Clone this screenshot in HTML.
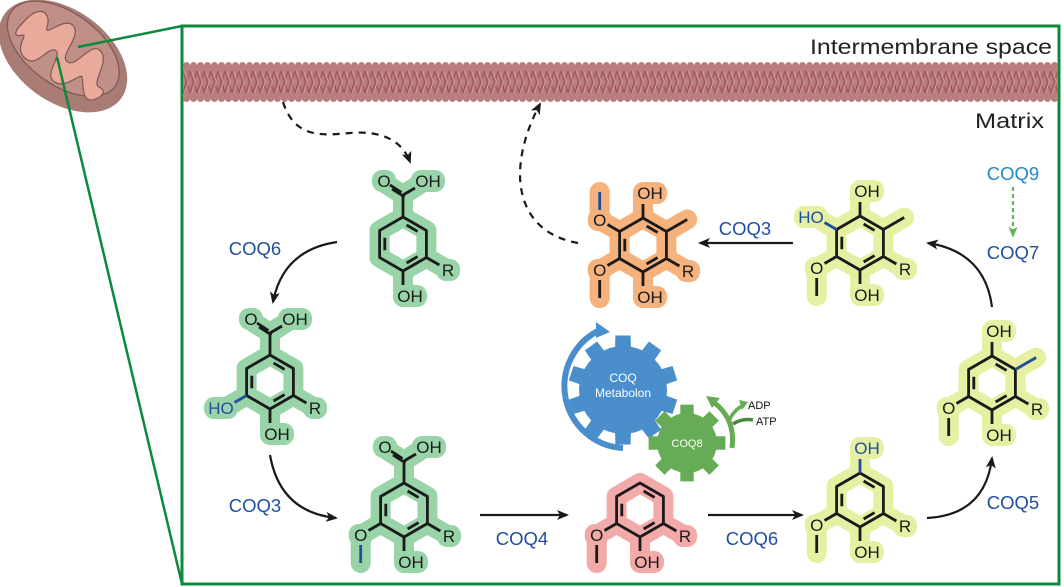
<!DOCTYPE html>
<html><head><meta charset="utf-8"><style>
html,body{margin:0;padding:0;background:#fff;width:1064px;height:587px;overflow:hidden}
svg{display:block}
text{font-family:"Liberation Sans",Arial,sans-serif}
</style></head><body>
<svg id="s" width="1064" height="587" viewBox="0 0 1064 587" xmlns="http://www.w3.org/2000/svg">
<defs>
<marker id="ah" viewBox="0 0 12 10" refX="10" refY="5" markerWidth="12" markerHeight="10" markerUnits="userSpaceOnUse" orient="auto">
<path d="M0,0 L12,5 L0,10 L3,5 Z" fill="#1a1a1a"/></marker>
<marker id="ahg" viewBox="0 0 12 10" refX="10" refY="5" markerWidth="11" markerHeight="10" markerUnits="userSpaceOnUse" orient="auto">
<path d="M0,0 L12,5 L0,10 L3,5 Z" fill="#5fb55a"/></marker>
<pattern id="mem" x="183" y="62" width="7" height="40" patternUnits="userSpaceOnUse">
<rect x="0" y="3" width="7" height="34" fill="#bb7e80"/>
<circle cx="3.5" cy="3.5" r="3.5" fill="#bb7e80"/>
<circle cx="3.5" cy="36.5" r="3.5" fill="#bb7e80"/>
<path d="M0,9 L3.5,20 L7,9 M0,31 L3.5,20 L7,31" stroke="#a45a60" stroke-width="1.6" fill="none"/>
<path d="M1.7,9 L5.2,20 M1.7,31 L5.2,20" stroke="#d9a7a8" stroke-width="0.8" fill="none"/>
</pattern>
</defs>

<!-- mitochondrion -->
<g transform="translate(63,56) rotate(36)">
<ellipse cx="0" cy="0" rx="72" ry="46" fill="#a87b75"/>
<ellipse cx="-4" cy="-6" rx="64" ry="36" fill="#c08f88" stroke="#7d5853" stroke-width="1.2"/>
<path d="M-52,-4 C-50,-30 -34,-28 -30,-14 C-26,-2 -22,-36 -8,-30 C4,-24 -4,4 8,2 C18,0 14,-30 28,-26 C42,-22 38,6 48,4 C56,2 56,10 50,18 C42,26 34,12 28,6 C24,2 22,26 8,26 C-6,26 0,-2 -10,0 C-18,2 -14,26 -30,24 C-46,22 -40,0 -46,8 C-52,14 -54,8 -52,-4 Z" fill="#e9a99b" stroke="#7d5853" stroke-width="1.2"/>
</g>
<line x1="78" y1="47" x2="182" y2="26" stroke="#0b8a3c" stroke-width="2.5"/>
<line x1="57" y1="57" x2="182" y2="584" stroke="#0b8a3c" stroke-width="2.5"/>
<rect x="182" y="26" width="877" height="558" fill="none" stroke="#0b8a3c" stroke-width="3"/>

<!-- membrane -->
<rect x="183" y="62" width="875" height="40" fill="url(#mem)"/>
<text x="810" y="54" font-size="21" textLength="242" lengthAdjust="spacingAndGlyphs" fill="#222">Intermembrane space</text>
<text x="975" y="128" font-size="21" textLength="69" lengthAdjust="spacingAndGlyphs" fill="#222">Matrix</text>

<!-- dashed -->
<path d="M283,102 C295,140 325,135 350,133 C385,130 403,143 410,162" fill="none" stroke="#1a1a1a" stroke-width="2.2" stroke-dasharray="7,6" marker-end="url(#ah)"/>
<path d="M578,243 C515,232 505,170 540,104" fill="none" stroke="#1a1a1a" stroke-width="2.2" stroke-dasharray="7,6" marker-end="url(#ah)"/>

<!-- solid arrows -->
<g fill="none" stroke="#1a1a1a" stroke-width="2.2">
<path d="M337,242 Q283,250 273,302" marker-end="url(#ah)"/>
<path d="M270,455 Q280,512 336,518" marker-end="url(#ah)"/>
<path d="M480,515 L567,515" marker-end="url(#ah)"/>
<path d="M708,515 L802,515" marker-end="url(#ah)"/>
<path d="M927,518 Q985,515 992,458" marker-end="url(#ah)"/>
<path d="M992,307 Q985,252 928,243" marker-end="url(#ah)"/>
<path d="M793,243 L700,243" marker-end="url(#ah)"/>
</g>
<path d="M1013,187 L1013,236" stroke="#5fb55a" stroke-width="2.2" stroke-dasharray="4,3" fill="none" marker-end="url(#ahg)"/>

<g font-size="18.5" fill="#1f4e9e">
<text x="255" y="255" text-anchor="middle">COQ6</text>
<text x="255" y="512" text-anchor="middle">COQ3</text>
<text x="522" y="545" text-anchor="middle">COQ4</text>
<text x="752" y="545" text-anchor="middle">COQ6</text>
<text x="1013" y="509" text-anchor="middle">COQ5</text>
<text x="1013" y="259" text-anchor="middle">COQ7</text>
<text x="1013" y="180" text-anchor="middle" fill="#1e88c8">COQ9</text>
<text x="745" y="235" text-anchor="middle">COQ3</text>
</g>

<g id="gears"></g>
<g id="mols"></g>
</svg>
<script>
var NS="http://www.w3.org/2000/svg";
function el(p,t,a,txt){var e=document.createElementNS(NS,t);for(var k in a)e.setAttribute(k,a[k]);if(txt)e.textContent=txt;p.appendChild(e);return e;}
var G=document.getElementById('gears');
function gear(cx,cy,rb,rt,n,col){var d="";var step=2*Math.PI/n;for(var i=0;i<n;i++){var a=i*step-Math.PI/2;var w=step*0.22;var pts=[[rb,a-step/2+w*0.2],[rb,a-w*1.3],[rt,a-w],[rt,a+w],[rb,a+w*1.3]];pts.forEach(function(p,j){var x=cx+p[0]*Math.cos(p[1]),y=cy+p[0]*Math.sin(p[1]);d+=(i==0&&j==0?"M":"L")+x.toFixed(1)+","+y.toFixed(1);});}d+="Z";el(G,'path',{d:d,fill:col});}
el(G,'path',{d:"M623,448 A62,62 0 0 1 600,330",fill:"none",stroke:"#4a8fcb","stroke-width":6});
el(G,'path',{d:"M596,322 L610,332 L596,338 Z",fill:"#4a8fcb"});
gear(623,390,44,55,10,"#4a8fcb");
el(G,'text',{x:623,y:382,"font-size":12,fill:"#fff","text-anchor":"middle"},"COQ");
el(G,'text',{x:623,y:397,"font-size":12,fill:"#fff","text-anchor":"middle"},"Metabolon");
gear(687,443,30,39,8,"#66ab55");
el(G,'text',{x:687,y:447,"font-size":11,fill:"#fff","text-anchor":"middle"},"COQ8");
el(G,'path',{d:"M732,448 Q736,418 712,401",fill:"none",stroke:"#66ab55","stroke-width":5});
el(G,'path',{d:"M706,396 L720,398 L712,408 Z",fill:"#66ab55"});
el(G,'path',{d:"M728,423 Q733,410 744,405",fill:"none",stroke:"#66ab55","stroke-width":3.5});
el(G,'path',{d:"M748,402 L739,400 L742,410 Z",fill:"#66ab55"});
el(G,'path',{d:"M733,424 Q742,418 753,420",fill:"none",stroke:"#4b8a3e","stroke-width":3.5});
el(G,'text',{x:748,y:409,"font-size":11,fill:"#111"},"ADP");
el(G,'text',{x:756,y:425,"font-size":11,fill:"#111"},"ATP");

var M=document.getElementById('mols');
var BLUE="#1f4e9e";
function mol(cx,cy,hl,subs){
  var r=27,V=[];for(var k=0;k<6;k++){var a=(-90+60*k)*Math.PI/180;V.push([cx+r*Math.cos(a),cy+r*Math.sin(a),Math.cos(a),Math.sin(a)]);}
  var bonds=[],labels=[],hlPts=[];
  var ring="M"+V.map(function(v){return v[0].toFixed(1)+","+v[1].toFixed(1)}).join("L")+"Z";
  var inner=[];[[0,1],[2,3],[4,5]].forEach(function(e){var a=V[e[0]],b=V[e[1]];var s=0.78,t=0.2;var ax=cx+(a[0]-cx)*s,ay=cy+(a[1]-cy)*s,bx=cx+(b[0]-cx)*s,by=cy+(b[1]-cy)*s;var x1=ax+(bx-ax)*t,y1=ay+(by-ay)*t,x2=ax+(bx-ax)*(1-t),y2=ay+(by-ay)*(1-t);inner.push("M"+x1.toFixed(1)+","+y1.toFixed(1)+"L"+x2.toFixed(1)+","+y2.toFixed(1));});
  subs.forEach(function(s){var v=V[s.k],x=v[0],y=v[1],dx=v[2],dy=v[3];var bc=s.bc||"#1a1a1a",tc=s.tc||"#1a1a1a";
    if(s.t=="OH"||s.t=="HO"){var L=14;bonds.push({d:"M"+x+","+y+"L"+(x+dx*L)+","+(y+dy*L),c:bc});var lx=x+dx*25,ly=y+dy*25;
      if(s.t=="OH"){labels.push({x:lx+7,y:ly,t:"OH",c:tc});hlPts.push([lx+7,ly,15]);}else{labels.push({x:lx-4,y:ly,t:"HO",c:tc});hlPts.push([lx-4,ly,15]);}}
    else if(s.t=="R"){bonds.push({d:"M"+x+","+y+"L"+(x+dx*15)+","+(y+dy*15),c:bc});labels.push({x:x+dx*25,y:y+dy*25,t:"R",c:tc});hlPts.push([x+dx*25,y+dy*25,10]);}
    else if(s.t=="Me"){var d="M"+x+","+y+"L"+(x+dx*24)+","+(y+dy*24);bonds.push({d:d,c:bc});hlPts.push([x+dx*24,y+dy*24,0,d]);}
    else if(s.t=="OMe"){bonds.push({d:"M"+x+","+y+"L"+(x+dx*14)+","+(y+dy*14),c:"#1a1a1a"});var ox=x+dx*23,oy=y+dy*23;labels.push({x:ox,y:oy,t:"O",c:"#1a1a1a"});var up=s.up?-1:1;var d2="M"+ox+","+(oy+up*10)+"L"+ox+","+(oy+up*28);bonds.push({d:d2,c:bc});hlPts.push([ox,oy,10]);hlPts.push([ox,oy+up*28,0,"M"+ox+","+oy+"L"+ox+","+(oy+up*28)]);}
    else if(s.t=="COOH"){var Cx=x,Cy=y-22;bonds.push({d:"M"+x+","+y+"L"+Cx+","+Cy,c:bc});
      var ox=Cx-17,oy=Cy-11,hx=Cx+17,hy=Cy-11;
      bonds.push({d:"M"+(Cx-1.5)+","+(Cy-2.5)+"L"+(ox+4)+","+(oy+1)+"M"+(Cx+1.5)+","+(Cy+2)+"L"+(ox+6)+","+(oy+5),c:bc});
      bonds.push({d:"M"+Cx+","+Cy+"L"+(hx-5)+","+(hy+4),c:bc});
      labels.push({x:ox-2,y:oy-3,t:"O",c:tc});labels.push({x:hx+8,y:hy-3,t:"OH",c:tc});
      hlPts.push([ox-2,oy-3,10]);hlPts.push([hx+8,hy-3,15]);hlPts.push([Cx,Cy,0,"M"+x+","+y+"L"+Cx+","+Cy+"L"+ox+","+oy+"M"+Cx+","+Cy+"L"+hx+","+hy]);}
  });
  var g=el(M,'g',{});
  el(g,'path',{d:ring,fill:"none",stroke:hl,"stroke-width":20,"stroke-linejoin":"round"});
  subs.forEach(function(s){var v=V[s.k];el(g,'path',{d:"M"+v[0]+","+v[1]+"L"+(v[0]+v[2]*20)+","+(v[1]+v[3]*20),stroke:hl,"stroke-width":20,"stroke-linecap":"round"});});
  hlPts.forEach(function(p){if(p[3])el(g,'path',{d:p[3],stroke:hl,"stroke-width":20,"stroke-linecap":"round",fill:"none"});else el(g,'rect',{x:p[0]-p[2]-2,y:p[1]-11,width:2*p[2]+4,height:22,rx:10,fill:hl});});
  el(g,'path',{d:ring,fill:"none",stroke:"#1a1a1a","stroke-width":2.8,"stroke-linejoin":"round"});
  el(g,'path',{d:inner.join(""),fill:"none",stroke:"#1a1a1a","stroke-width":2.8});
  bonds.forEach(function(b){el(g,'path',{d:b.d,fill:"none",stroke:b.c,"stroke-width":2.8});});
  labels.forEach(function(l){el(g,'text',{x:l.x,y:l.y+6,"font-size":17,"text-anchor":"middle",fill:l.c},l.t);});
}
var GR="#98d4a8",OR="#f6b27c",YE="#e6f0a2",PK="#f2aaa8";
mol(403,244,GR,[{k:0,t:"COOH"},{k:2,t:"R"},{k:3,t:"OH"}]);
mol(270,382,GR,[{k:0,t:"COOH"},{k:2,t:"R"},{k:3,t:"OH"},{k:4,t:"HO",bc:BLUE,tc:BLUE}]);
mol(404,510,GR,[{k:0,t:"COOH"},{k:2,t:"R"},{k:3,t:"OH"},{k:4,t:"OMe",bc:BLUE}]);
mol(640,510,PK,[{k:2,t:"R"},{k:3,t:"OH"},{k:4,t:"OMe"}]);
mol(860,500,YE,[{k:0,t:"OH",bc:BLUE,tc:BLUE},{k:2,t:"R"},{k:3,t:"OH"},{k:4,t:"OMe"}]);
mol(992,383,YE,[{k:0,t:"OH"},{k:1,t:"Me",bc:BLUE},{k:2,t:"R"},{k:3,t:"OH"},{k:4,t:"OMe"}]);
mol(860,243,YE,[{k:0,t:"OH"},{k:1,t:"Me"},{k:2,t:"R"},{k:3,t:"OH"},{k:4,t:"OMe"},{k:5,t:"HO",bc:BLUE,tc:BLUE}]);
mol(643,245,OR,[{k:0,t:"OH"},{k:1,t:"Me"},{k:2,t:"R"},{k:3,t:"OH"},{k:4,t:"OMe"},{k:5,t:"OMe",up:true,bc:BLUE}]);
</script>
</body></html>
